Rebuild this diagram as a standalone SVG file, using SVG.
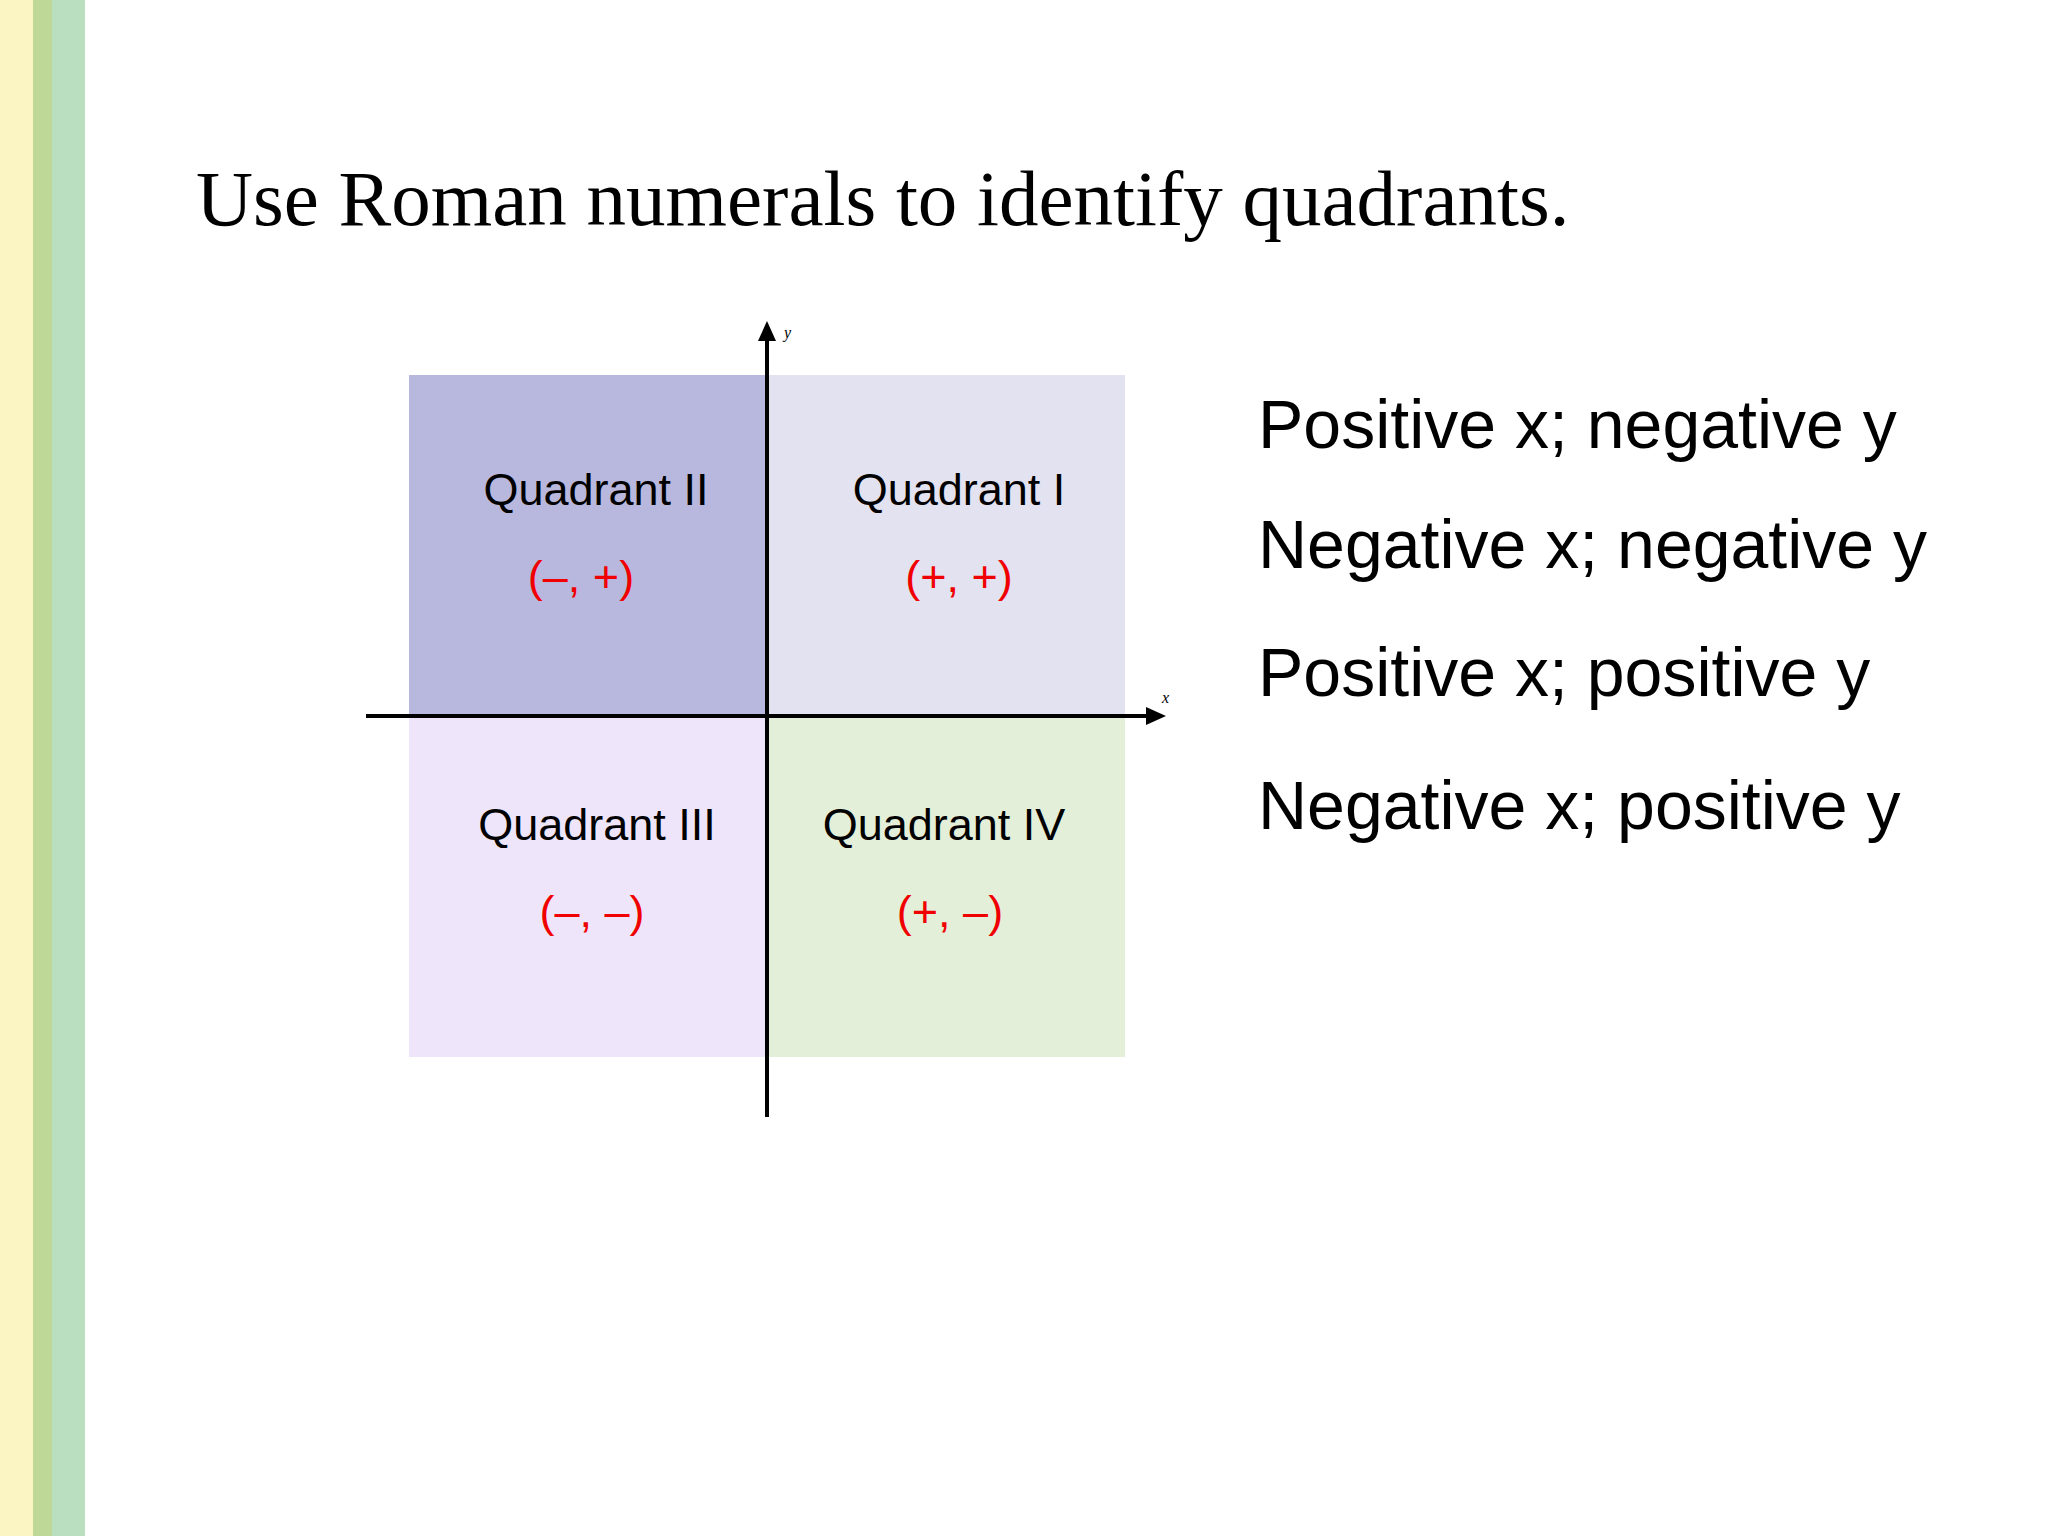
<svg xmlns="http://www.w3.org/2000/svg" width="2048" height="1536" viewBox="0 0 2048 1536">
<style>
.q{font-family:"Liberation Sans",Arial,sans-serif;font-size:45px;fill:#000;text-anchor:middle}
.s{font-family:"Liberation Sans",Arial,sans-serif;font-size:45px;fill:#f00000;text-anchor:middle}
.r{font-family:"Liberation Sans",Arial,sans-serif;font-size:68px;fill:#000}
.ax{stroke:#000;stroke-width:4;fill:none}
.al{font-family:"Liberation Serif",serif;font-style:italic;font-size:16px;fill:#000}
</style>
<defs><marker id="ah" markerWidth="20" markerHeight="18" refX="4" refY="9" orient="auto" markerUnits="userSpaceOnUse" viewBox="0 0 20 18"><path d="M0,0 L20,9 L0,18 Z" fill="#000"/></marker></defs>
<rect width="2048" height="1536" fill="#fff"/>
<rect x="0" y="0" width="33" height="1536" fill="#fbf5c3"/>
<rect x="33" y="0" width="19" height="1536" fill="#bdd897"/>
<rect x="52" y="0" width="33" height="1536" fill="#b9dfc0"/>
<text x="196" y="225" font-family="Liberation Serif,serif" font-size="79">Use Roman numerals to identify quadrants.</text>
<g id="q2"><rect x="409" y="375" width="358" height="341" fill="#b8b8df"/><text class="q" x="596" y="505">Quadrant II</text><text class="s" x="581" y="592">(–, +)</text></g>
<g id="q1"><rect x="767" y="375" width="358" height="341" fill="#e2e2f1"/><text class="q" x="959" y="505">Quadrant I</text><text class="s" x="959" y="592">(+, +)</text></g>
<g id="q3"><rect x="409" y="716" width="358" height="341" fill="#eee5fb"/><text class="q" x="597" y="840">Quadrant III</text><text class="s" x="592" y="927">(–, –)</text></g>
<g id="q4"><rect x="767" y="716" width="358" height="341" fill="#e3efd9"/><text class="q" x="944" y="840">Quadrant IV</text><text class="s" x="950" y="927">(+, –)</text></g>
<g id="connectors">
<line class="ax" x1="767" y1="1117" x2="767" y2="337" marker-end="url(#ah)"/>
<line class="ax" x1="366" y1="716" x2="1150" y2="716" marker-end="url(#ah)"/>
</g>
<text class="al" x="784" y="338">y</text>
<text class="al" x="1162" y="703">x</text>
<g id="right">
<text class="r" x="1258" y="448">Positive x; negative y</text>
<text class="r" x="1258" y="568">Negative x; negative y</text>
<text class="r" x="1258" y="696">Positive x; positive y</text>
<text class="r" x="1258" y="829">Negative x; positive y</text>
</g>
</svg>
